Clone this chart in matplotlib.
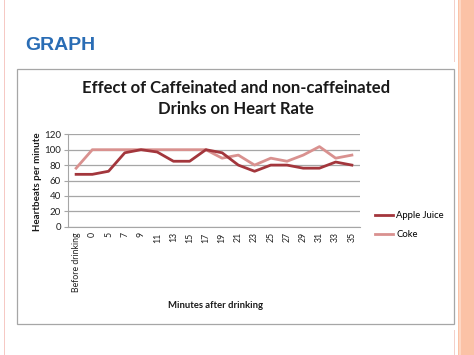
import matplotlib
matplotlib.use("Agg")
import matplotlib.pyplot as plt
from matplotlib.patches import Rectangle
from matplotlib.lines import Line2D

categories = ["Before drinking", "0", "5", "7", "9", "11", "13", "15", "17", "19",
              "21", "23", "25", "27", "29", "31", "33", "35"]
apple_juice = [68, 68, 72, 96, 100, 97, 85, 85, 100, 96, 80, 72, 80, 80, 76, 76, 84, 80]
coke = [76, 100, 100, 100, 100, 100, 100, 100, 100, 89, 93, 80, 89, 85, 93, 104, 89, 93]
y_ticks = [0, 20, 40, 60, 80, 100, 120]

W, H = 474, 355
fig = plt.figure(figsize=(W / 100, H / 100), dpi=100)
fig.patch.set_facecolor("white")

def fx(px):
    return px / W

def fy(py):
    return 1 - py / H

# slide decorations
fig.add_artist(Rectangle((fx(3.5), 0), fx(1.6), 1, transform=fig.transFigure,
                         facecolor="#f6c9c4", edgecolor="none", zorder=-5))
fig.add_artist(Rectangle((fx(458), 0), fx(16), 1, transform=fig.transFigure,
                         facecolor="#fbc2a6", edgecolor="none", zorder=-5))
fig.add_artist(Rectangle((fx(459), 0), fx(2), 1, transform=fig.transFigure,
                         facecolor="#fdd7c4", edgecolor="none", zorder=-5))
fig.add_artist(Rectangle((fx(454), fy(62)), fx(1.2), fy(0) - fy(62), transform=fig.transFigure,
                         facecolor="#f4cfc9", edgecolor="none", zorder=-5))
fig.add_artist(Rectangle((fx(454), 0), fx(1.2), fy(330), transform=fig.transFigure,
                         facecolor="#f4cfc9", edgecolor="none", zorder=-5))

fig.text(fx(25), fy(46), "GRAPH", color="#2a6db5", fontsize=14, fontweight="bold",
         family="Liberation Sans", ha="left", va="center")

# chart box
fig.add_artist(Rectangle((fx(17), fy(324)), fx(454 - 17), fy(69) - fy(324),
                         transform=fig.transFigure, facecolor="white",
                         edgecolor="#a6a6a6", linewidth=0.9, zorder=-4))

fig.text(fx(236), fy(88), "Effect of Caffeinated and non-caffeinated", ha="center",
         va="center", fontsize=12, fontweight="bold", family="Lato", color="#1a1a1a")
fig.text(fx(236), fy(109), "Drinks on Heart Rate", ha="center",
         va="center", fontsize=12, fontweight="bold", family="Lato", color="#1a1a1a")

ax = fig.add_axes([fx(68), fy(226.7), fx(360 - 68), fy(134.3) - fy(226.7)])
ax.set_zorder(2)
ax.set_facecolor("none")
x = list(range(len(categories)))
ax.plot(x, apple_juice, color="#a3363c", linewidth=2.0, label="Apple Juice", zorder=3)
ax.plot(x, coke, color="#d9918f", linewidth=2.0, label="Coke", zorder=2)
ax.set_xlim(-0.5, len(categories) - 0.5)
ax.set_ylim(0, 120)
ax.set_yticks(y_ticks)
ax.set_yticklabels([str(v) for v in y_ticks], fontsize=7, family="Lato", color="#222222")
ax.set_xticks(x)
ax.set_xticklabels(categories, rotation=90, fontsize=6.3, family="Lato", color="#222222")
ax.grid(axis="y", color="#a6a6a6", linewidth=0.9)
ax.set_axisbelow(True)
for s in ["top", "right"]:
    ax.spines[s].set_visible(False)
ax.spines["left"].set_color("#a6a6a6")
ax.spines["bottom"].set_color("#a6a6a6")
ax.tick_params(axis="y", length=3, color="#a6a6a6", pad=2)
ax.tick_params(axis="x", length=0, pad=4)

fig.text(fx(37), fy(182), "Heartbeats per minute", rotation=90, ha="center", va="center",
         fontsize=7, fontweight="bold", family="Lato", color="#1a1a1a")
fig.text(fx(215), fy(305), "Minutes after drinking", ha="center", va="center",
         fontsize=6.8, fontweight="bold", family="Lato", color="#1a1a1a")

handles = [Line2D([], [], color="#a3363c", linewidth=2.0),
           Line2D([], [], color="#d9918f", linewidth=2.0)]
leg = fig.legend(handles, ["Apple Juice", "Coke"], loc="upper left",
                 bbox_to_anchor=(fx(366), fy(203)), frameon=False,
                 prop={"family": "Lato", "size": 6.8}, handlelength=2.0,
                 handletextpad=0.3, labelspacing=1.0)

fig.savefig("out.png", dpi=100)
